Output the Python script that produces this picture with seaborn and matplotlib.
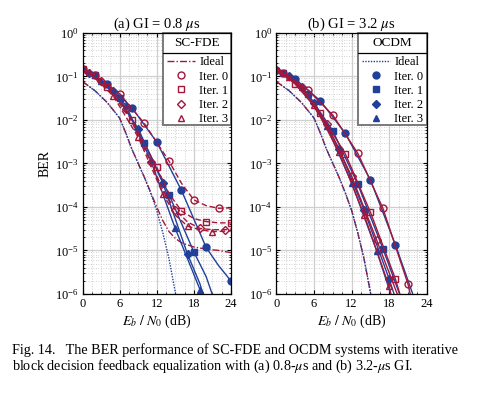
import numpy as np
import matplotlib
matplotlib.use("Agg")
import matplotlib.pyplot as plt
from matplotlib.lines import Line2D
from matplotlib.patches import Rectangle
from matplotlib.ticker import MultipleLocator, FixedLocator, NullFormatter
import seaborn as sns

# ---------------------------------------------------------------------------
# data (Eb/N0 in dB, BER)
# ---------------------------------------------------------------------------
# ideal curves
ideal_sc_a_x = [0, 2, 4, 6, 7, 8, 9, 10, 11, 12, 13, 14, 15, 16, 18, 20, 22, 24]
ideal_sc_a_y = [7.6e-2, 4.7e-2, 2.5e-2, 1.1e-2, 5.0e-3, 2.1e-3, 1.0e-3, 4.8e-4, 2.2e-4,
                1.0e-4, 4.8e-5, 2.7e-5, 1.9e-5, 1.5e-5, 1.2e-5, 1.07e-5, 1.0e-5, 8.9e-6]
ideal_x = [0, 2, 4, 6, 7, 8, 9, 10, 11, 12, 13, 14, 15, 15.5]
ideal_y = [7.6e-2, 4.7e-2, 2.5e-2, 1.1e-2, 5.0e-3, 2.1e-3, 1.0e-3, 4.8e-4, 2.1e-4,
           8.3e-5, 2.5e-5, 6.3e-6, 1.1e-6, 5e-7]

# (a) GI = 0.8 us  --  SC-FDE (open, red) / OCDM (filled, blue)
sc_a = {
    0: ([0, 2, 6, 10, 14, 16, 18, 20, 22, 24],
        [1.48e-1, 1.07e-1, 4.0e-2, 8.3e-3, 1.12e-3, 3.5e-4, 1.45e-4, 1.07e-4, 9.3e-5, 9.5e-5],
        [2, 6, 10, 14, 18, 22]),
    1: ([0, 4, 8, 12, 14, 16, 18, 20, 22, 24],
        [1.48e-1, 5.6e-2, 1.0e-2, 8.1e-4, 2.0e-4, 8.1e-5, 5.4e-5, 4.6e-5, 4.3e-5, 4.3e-5],
        [0, 4, 8, 12, 16, 20, 24]),
    2: ([0, 3, 7, 11, 13, 15, 17, 19, 21, 23, 24],
        [1.48e-1, 7.9e-2, 1.78e-2, 1.1e-3, 2.5e-4, 8.5e-5, 4.5e-5, 3.2e-5, 3.0e-5, 3.0e-5, 3.1e-5],
        [3, 7, 11, 15, 19, 23]),
    3: ([0, 1, 5, 9, 13, 15, 17, 19, 21, 24],
        [1.48e-1, 1.26e-1, 3.5e-2, 4.0e-3, 2.0e-4, 6.5e-5, 3.6e-5, 3.0e-5, 2.7e-5, 2.8e-5],
        [1, 5, 9, 13, 17, 21]),
}
oc_a = {
    0: ([0, 4, 8, 12, 16, 20, 22, 24],
        [1.48e-1, 6.8e-2, 1.9e-2, 3.1e-3, 2.4e-4, 1.17e-5, 4.5e-6, 2.0e-6],
        [0, 4, 8, 12, 16, 20, 24]),
    1: ([0, 2, 6, 10, 14, 18, 20, 21.2],
        [1.48e-1, 1.05e-1, 3.2e-2, 3.0e-3, 1.9e-4, 9.3e-6, 2.5e-6, 8e-7],
        [2, 6, 10, 14, 18]),
    2: ([0, 1, 5, 9, 13, 17, 19, 19.8],
        [1.48e-1, 1.2e-1, 4.5e-2, 6.3e-3, 3.5e-4, 8.1e-6, 1.7e-6, 7e-7],
        [1, 5, 9, 13, 17]),
    3: ([0, 3, 7, 11, 15, 19, 19.5],
        [1.48e-1, 7.9e-2, 2.2e-2, 1.2e-3, 3.2e-5, 1.26e-6, 7e-7],
        [3, 7, 11, 15, 19]),
}

# (b) GI = 3.2 us
sc_b = {
    0: ([0, 1, 5, 9, 13, 17, 21, 21.6],
        [1.41e-1, 1.2e-1, 4.9e-2, 1.29e-2, 1.7e-3, 9.3e-5, 1.7e-6, 7e-7],
        [1, 5, 9, 13, 17, 21]),
    1: ([0, 3, 7, 11, 15, 19, 19.9],
        [1.41e-1, 6.8e-2, 1.41e-2, 1.66e-3, 7.6e-5, 2.2e-6, 8e-7],
        [3, 7, 11, 15, 19]),
    2: ([0, 4, 8, 12, 16, 19.7],
        [1.41e-1, 5.6e-2, 7.9e-3, 5.1e-4, 1.74e-5, 7e-7],
        [0, 4, 8, 12, 16]),
    3: ([0, 2, 6, 10, 14, 18, 18.5],
        [1.41e-1, 9.5e-2, 2.2e-2, 1.8e-3, 6.6e-5, 1.5e-6, 7e-7],
        [2, 6, 10, 14, 18]),
}
oc_b = {
    0: ([0, 3, 7, 11, 15, 19, 22],
        [1.41e-1, 8.7e-2, 2.75e-2, 4.9e-3, 4.2e-4, 1.35e-5, 8e-7],
        [0, 3, 7, 11, 15, 19]),
    1: ([0, 1, 5, 9, 13, 17, 19.9],
        [1.41e-1, 1.2e-1, 4.0e-2, 5.6e-3, 3.3e-4, 1.1e-5, 8e-7],
        [1, 5, 9, 13, 17]),
    2: ([0, 2, 6, 10, 14, 18, 19],
        [1.41e-1, 1.0e-1, 2.5e-2, 2.2e-3, 8.5e-5, 2.2e-6, 8e-7],
        [2, 6, 10, 14, 18]),
    3: ([0, 4, 8, 12, 16, 18.6],
        [1.41e-1, 5.6e-2, 7.1e-3, 3.6e-4, 9.8e-6, 7e-7],
        [0, 4, 8, 12, 16]),
}

x_ticks = [0, 6, 12, 18, 24]
y_ticks = [1e-6, 1e-5, 1e-4, 1e-3, 1e-2, 1e-1, 1e0]
iter_labels = ["Iter. 0", "Iter. 1", "Iter. 2", "Iter. 3"]
markers = ["o", "s", "D", "^"]
msizes = [5, 4.5, 4.2, 5]

RED = "#A3173B"
BLUE = "#21409A"

# ---------------------------------------------------------------------------
sns.set_theme(style="ticks")
plt.rcParams.update({
    "font.family": ["Liberation Serif", "DejaVu Serif"],
    "mathtext.fontset": "stix",
    "axes.edgecolor": "black",
    "axes.linewidth": 0.9,
    "xtick.direction": "in",
    "ytick.direction": "in",
    "xtick.color": "black",
    "ytick.color": "black",
    "axes.labelcolor": "black",
    "text.color": "black",
})

fig = plt.figure(figsize=(4.8, 4.01), dpi=100)
ax_a = fig.add_axes([0.172, 0.267, 0.309, 0.651])
ax_b = fig.add_axes([0.576, 0.267, 0.313, 0.651])


def draw_curve(ax, x, y, mx, color, ls, marker, ms, filled):
    mask = [v in mx for v in x]
    sns.lineplot(x=x, y=y, ax=ax, color=color, linestyle=ls, linewidth=1.0,
                 marker=marker, markevery=mask, markersize=ms,
                 markerfacecolor=color if filled else "none",
                 markeredgecolor=color, markeredgewidth=1.0,
                 estimator=None, sort=False, legend=False, zorder=3)


def style_axes(ax, title):
    ax.set_yscale("log")
    ax.set_xlim(0, 24)
    ax.set_ylim(1e-6, 1)
    ax.xaxis.set_major_locator(FixedLocator(x_ticks))
    ax.xaxis.set_minor_locator(MultipleLocator(1.5))
    ax.yaxis.set_major_locator(FixedLocator(y_ticks))
    minor = [m * d for d in y_ticks[:-1] for m in range(2, 10)]
    ax.yaxis.set_minor_locator(FixedLocator(minor))
    ax.yaxis.set_minor_formatter(NullFormatter())
    ax.grid(True, which="major", color="#cfcfcf", linewidth=0.9, linestyle="-")
    ax.grid(True, which="minor", color="#c4c4c4", linewidth=0.6, linestyle=(0, (1, 2)))
    ax.set_axisbelow(True)
    ax.tick_params(which="both", top=True, right=True, labelsize=9, pad=3)
    ax.tick_params(which="major", length=3, width=0.8)
    ax.tick_params(which="minor", length=1.5, width=0.6)
    for sp in ax.spines.values():
        sp.set_visible(True)
        sp.set_zorder(9)
    ax.set_title(title, fontsize=10.5, pad=3)
    ax.set_xlabel(r"$E_b\ /\ N_0$ (dB)", fontsize=10, labelpad=2)


def legend_box(ax, head, handles):
    ax.add_patch(Rectangle((0.545, 0.648), 0.455, 0.352, transform=ax.transAxes,
                           facecolor="white", edgecolor="#7a7a7a", linewidth=1.4,
                           zorder=6, clip_on=False))
    ax.plot([0.545, 1.0], [0.923, 0.923], transform=ax.transAxes, color="black",
            linewidth=0.9, zorder=7, clip_on=False)
    ax.text(0.7725, 0.962, head, transform=ax.transAxes, ha="center", va="center",
            fontsize=9.5, zorder=8)
    leg = ax.legend(handles=handles, loc="upper left", mode="expand",
                    bbox_to_anchor=(0.55, 0.65, 0.45, 0.27), frameon=False,
                    fontsize=9, handlelength=2.3, handletextpad=0.3,
                    labelspacing=0.18, borderpad=0.2, borderaxespad=0)
    leg.set_zorder(8)


# ---- panel (a)
sns.lineplot(x=ideal_sc_a_x, y=ideal_sc_a_y, ax=ax_a, color=RED,
             linestyle=(0, (5, 1.5, 1, 1.5)), linewidth=1.0, estimator=None,
             sort=False, legend=False, zorder=3)
sns.lineplot(x=ideal_x, y=ideal_y, ax=ax_a, color=BLUE, linestyle=(0, (1, 1)),
             linewidth=1.0, estimator=None, sort=False, legend=False, zorder=3)
for k in range(4):
    x, y, mx = oc_a[k]
    draw_curve(ax_a, x, y, mx, BLUE, "-", markers[k], msizes[k], True)
for k in range(4):
    x, y, mx = sc_a[k]
    draw_curve(ax_a, x, y, mx, RED, (0, (4, 2)), markers[k], msizes[k], False)

# ---- panel (b)
sns.lineplot(x=ideal_x, y=ideal_y, ax=ax_b, color=RED,
             linestyle=(0, (5, 1.5, 1, 1.5)), linewidth=1.0, estimator=None,
             sort=False, legend=False, zorder=3)
sns.lineplot(x=ideal_x, y=ideal_y, ax=ax_b, color=BLUE, linestyle=(0, (1, 1)),
             linewidth=1.0, estimator=None, sort=False, legend=False, zorder=3)
for k in range(4):
    x, y, mx = oc_b[k]
    draw_curve(ax_b, x, y, mx, BLUE, "-", markers[k], msizes[k], True)
for k in range(4):
    x, y, mx = sc_b[k]
    draw_curve(ax_b, x, y, mx, RED, "-", markers[k], msizes[k], False)

style_axes(ax_a, r"(a) GI = 0.8 $\mu$s")
style_axes(ax_b, r"(b) GI = 3.2 $\mu$s")
ax_a.set_ylabel("BER", fontsize=10, labelpad=2)
ax_b.set_ylabel("")

h_a = [Line2D([], [], color=RED, linestyle=(0, (5, 1.5, 1, 1.5)), linewidth=1.0)]
h_b = [Line2D([], [], color=BLUE, linestyle=(0, (1, 1)), linewidth=1.0)]
for k in range(4):
    h_a.append(Line2D([], [], linestyle="none", marker=markers[k], markersize=msizes[k],
                      markerfacecolor="none", markeredgecolor=RED, markeredgewidth=1.0))
    h_b.append(Line2D([], [], linestyle="none", marker=markers[k], markersize=msizes[k],
                      markerfacecolor=BLUE, markeredgecolor=BLUE, markeredgewidth=1.0))
for h, lab in zip(h_a, ["Ideal"] + iter_labels):
    h.set_label(lab)
for h, lab in zip(h_b, ["Ideal"] + iter_labels):
    h.set_label(lab)

legend_box(ax_a, "SC-FDE", h_a)
legend_box(ax_b, "OCDM", h_b)

# caption (one text block, two lines)
caption = ("Fig. 14.   The BER performance of SC-FDE and OCDM systems with iterative\n"
           r"block decision feedback equalization with (a) 0.8-$\mu$s and (b) 3.2-$\mu$s GI.")
fig.text(0.025, 0.143, caption, fontsize=10.2, ha="left", va="top", linespacing=1.05)

fig.savefig("out.png", dpi=100)
